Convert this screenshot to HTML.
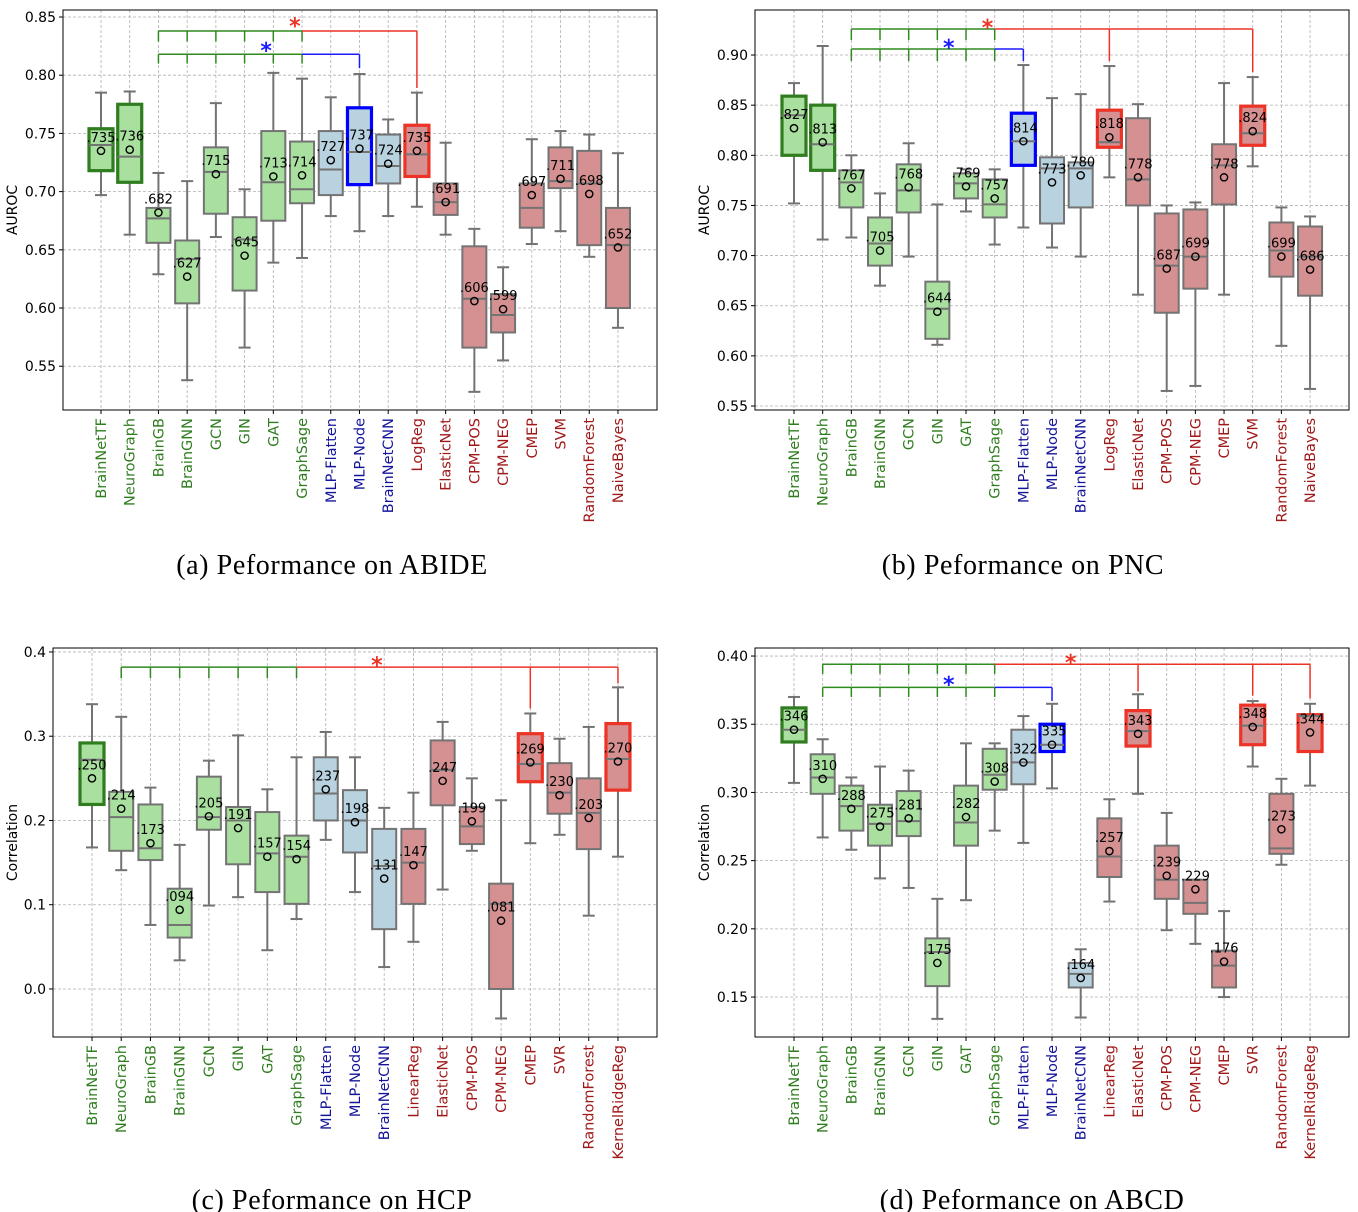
<!DOCTYPE html>
<html><head><meta charset="utf-8">
<style>
body{margin:0;background:#fff;}
svg{display:block;}
</style></head>
<body>
<svg id="fig" width="1358" height="1212" viewBox="0 0 1358 1212" xmlns="http://www.w3.org/2000/svg" font-family="DejaVu Sans, Liberation Sans, sans-serif">
<text x="332" y="574" font-family="Liberation Serif, serif" font-size="28" letter-spacing="0.6" text-anchor="middle">(a) Peformance on ABIDE</text>
<text x="1023" y="574" font-family="Liberation Serif, serif" font-size="28" letter-spacing="0.6" text-anchor="middle">(b) Peformance on PNC</text>
<text x="332" y="1209" font-family="Liberation Serif, serif" font-size="28" letter-spacing="0.6" text-anchor="middle">(c) Peformance on HCP</text>
<text x="1032" y="1209" font-family="Liberation Serif, serif" font-size="28" letter-spacing="0.6" text-anchor="middle">(d) Peformance on ABCD</text>
</svg>
<script>
// ---------- Panel A (ABIDE) ----------
const catsA = ["BrainNetTF","NeuroGraph","BrainGB","BrainGNN","GCN","GIN","GAT","GraphSage","MLP-Flatten","MLP-Node","BrainNetCNN","LogReg","ElasticNet","CPM-POS","CPM-NEG","CMEP","SVM","RandomForest","NaiveBayes"];
const wloA = [.697,.663,.629,.538,.661,.566,.639,.643,.679,.666,.679,.687,.663,.528,.555,.655,.666,.644,.583];
const q1A  = [.718,.708,.656,.604,.681,.615,.675,.690,.697,.706,.707,.713,.680,.566,.579,.669,.703,.654,.600];
const medA = [.740,.730,.677,.642,.717,.659,.708,.702,.719,.734,.722,.732,.691,.608,.594,.686,.709,.707,.654];
const q3A  = [.754,.775,.686,.658,.738,.678,.752,.743,.752,.772,.749,.757,.707,.653,.612,.707,.738,.735,.686];
const whiA = [.785,.786,.716,.709,.776,.702,.802,.797,.781,.801,.762,.785,.742,.668,.635,.745,.752,.749,.733];
const meanA= [.735,.736,.682,.627,.715,.645,.713,.714,.727,.737,.724,.735,.691,.606,.599,.697,.711,.698,.652];
const ticksA = [0.55,0.60,0.65,0.70,0.75,0.80,0.85];
const tickLabA = ["0.55","0.60","0.65","0.70","0.75","0.80","0.85"];

// ---------- Panel B (PNC) ----------
const catsB = ["BrainNetTF","NeuroGraph","BrainGB","BrainGNN","GCN","GIN","GAT","GraphSage","MLP-Flatten","MLP-Node","BrainNetCNN","LogReg","ElasticNet","CPM-POS","CPM-NEG","CMEP","SVM","RandomForest","NaiveBayes"];
const wloB = [.752,.716,.718,.670,.699,.611,.744,.711,.728,.708,.699,.778,.661,.565,.570,.661,.789,.610,.567];
const q1B  = [.800,.785,.748,.690,.743,.617,.757,.738,.790,.732,.748,.808,.750,.643,.667,.751,.810,.679,.660];
const medB = [.840,.811,.773,.712,.765,.647,.772,.751,.814,.787,.787,.813,.776,.690,.699,.790,.822,.705,.699];
const q3B  = [.859,.850,.785,.738,.791,.674,.782,.776,.842,.798,.793,.845,.837,.742,.746,.811,.849,.733,.729];
const whiB = [.872,.909,.800,.762,.812,.751,.786,.786,.890,.857,.861,.889,.851,.750,.753,.872,.878,.748,.739];
const meanB= [.827,.813,.767,.705,.768,.644,.769,.757,.814,.773,.780,.818,.778,.687,.699,.778,.824,.699,.686];
const ticksB = [0.55,0.60,0.65,0.70,0.75,0.80,0.85,0.90];
const tickLabB = ["0.55","0.60","0.65","0.70","0.75","0.80","0.85","0.90"];

// ---------- Panel C (HCP) ----------
const catsC = ["BrainNetTF","NeuroGraph","BrainGB","BrainGNN","GCN","GIN","GAT","GraphSage","MLP-Flatten","MLP-Node","BrainNetCNN","LinearReg","ElasticNet","CPM-POS","CPM-NEG","CMEP","SVR","RandomForest","KernelRidgeReg"];
const wloC = [.168,.141,.076,.034,.099,.109,.046,.083,.177,.115,.026,.056,.118,.164,-.035,.173,.183,.087,.157];
const q1C  = [.219,.164,.153,.061,.189,.148,.115,.101,.200,.162,.071,.101,.218,.172,.000,.246,.208,.166,.236];
const medC = [.272,.204,.167,.076,.204,.200,.161,.157,.232,.200,.146,.150,.260,.193,.101,.267,.233,.209,.273];
const q3C  = [.292,.234,.219,.119,.252,.216,.210,.182,.275,.236,.190,.190,.295,.216,.125,.303,.268,.250,.315];
const whiC = [.338,.323,.239,.171,.271,.301,.237,.275,.305,.275,.215,.233,.317,.250,.224,.327,.297,.311,.358];
const meanC= [.250,.214,.173,.094,.205,.191,.157,.154,.237,.198,.131,.147,.247,.199,.081,.269,.230,.203,.270];
const ticksC = [0.0,0.1,0.2,0.3,0.4];
const tickLabC = ["0.0","0.1","0.2","0.3","0.4"];

// ---------- Panel D (ABCD) ----------
const catsD = ["BrainNetTF","NeuroGraph","BrainGB","BrainGNN","GCN","GIN","GAT","GraphSage","MLP-Flatten","MLP-Node","BrainNetCNN","LinearReg","ElasticNet","CPM-POS","CPM-NEG","CMEP","SVR","RandomForest","KernelRidgeReg"];
const wloD = [.307,.267,.258,.237,.230,.134,.221,.272,.263,.303,.135,.220,.299,.199,.189,.150,.319,.247,.305];
const q1D  = [.337,.299,.272,.261,.268,.158,.261,.302,.306,.330,.157,.238,.334,.222,.211,.157,.335,.255,.330];
const medD = [.346,.311,.290,.277,.279,.183,.278,.313,.322,.335,.167,.253,.345,.236,.219,.173,.349,.259,.356];
const q3D  = [.362,.328,.305,.291,.301,.193,.305,.332,.346,.350,.175,.281,.360,.261,.236,.184,.364,.299,.357];
const whiD = [.370,.339,.311,.319,.316,.222,.336,.336,.356,.365,.185,.295,.372,.285,.236,.213,.367,.310,.365];
const meanD= [.346,.310,.288,.275,.281,.175,.282,.308,.322,.335,.164,.257,.343,.239,.229,.176,.348,.273,.344];
const ticksD = [0.15,0.20,0.25,0.30,0.35,0.40];
const tickLabD = ["0.15","0.20","0.25","0.30","0.35","0.40"];

const NS = "http://www.w3.org/2000/svg";
const svg = document.getElementById("fig");
function mk(tag, attrs, parent){
  const e = document.createElementNS(NS, tag);
  for (const k in attrs) e.setAttribute(k, attrs[k]);
  (parent||svg).appendChild(e);
  return e;
}
const FILL = {g:"#a9e09f", b:"#b8d2df", r:"#d59191"};
const LAB = {g:"#2f7d1f", b:"#14149a", r:"#a01818"};
const HL = {g:"#2f7d1f", b:"#0000ff", r:"#ec3326"};
function kindOf(name){
  if (["BrainNetTF","NeuroGraph","BrainGB","BrainGNN","GCN","GIN","GAT","GraphSage"].includes(name)) return "g";
  if (["MLP-Flatten","MLP-Node","BrainNetCNN"].includes(name)) return "b";
  return "r";
}

function panel(cfg){
  const g = mk("g", {});
  
  
  const y = v => cfg.top + (cfg.ymax - v) / (cfg.ymax - cfg.ymin) * (cfg.bottom - cfg.top);
  const x = i => cfg.x0 + i * cfg.step;
  cfg.ticks.forEach((t, i) => {
    const gl = mk("line", {x1:cfg.left, x2:cfg.right, y1:y(t), y2:y(t), stroke:"#b0b0b0", "stroke-width":0.8, "stroke-dasharray":"3,2"}, g);
    
    
    const tk = mk("line", {x1:cfg.left-4, x2:cfg.left, y1:y(t), y2:y(t), stroke:"#000", "stroke-width":1}, g);
    
    
    const tl = mk("text", {x:cfg.left-7, y:y(t)+5, "font-size":14, "text-anchor":"end", fill:"#000"}, g);
    tl.textContent = cfg.tickLab[i];
    
    
  });
  cfg.cats.forEach((c, i) => {
    const gl = mk("line", {x1:x(i), x2:x(i), y1:cfg.top, y2:cfg.bottom, stroke:"#b0b0b0", "stroke-width":0.8, "stroke-dasharray":"3,2"}, g);
    
    
    const tk = mk("line", {x1:x(i), x2:x(i), y1:cfg.bottom, y2:cfg.bottom+4, stroke:"#000", "stroke-width":1}, g);
    
    
    const tl = mk("text", {transform:`translate(${x(i)+5},${cfg.bottom+8}) rotate(-90)`, "font-size":14.5, "text-anchor":"end", fill:LAB[kindOf(c)]}, g);
    tl.textContent = c;
    
    
  });
  const bw = 24, cw = 12;
  cfg.cats.forEach((c, i) => {
    const k = kindOf(c);
    const hl = cfg.hl[i];
    const cx = x(i);
    const bg = mk("g", {}, g);
    
    
    const wc = "#737373";
    mk("line", {x1:cx, x2:cx, y1:y(cfg.whi[i]), y2:y(cfg.q3[i]), stroke:wc, "stroke-width":2}, bg);
    mk("line", {x1:cx, x2:cx, y1:y(cfg.q1[i]), y2:y(cfg.wlo[i]), stroke:wc, "stroke-width":2}, bg);
    mk("line", {x1:cx-cw/2, x2:cx+cw/2, y1:y(cfg.whi[i]), y2:y(cfg.whi[i]), stroke:wc, "stroke-width":2}, bg);
    mk("line", {x1:cx-cw/2, x2:cx+cw/2, y1:y(cfg.wlo[i]), y2:y(cfg.wlo[i]), stroke:wc, "stroke-width":2}, bg);
    mk("rect", {x:cx-bw/2, y:y(cfg.q3[i]), width:bw, height:y(cfg.q1[i])-y(cfg.q3[i]), fill:FILL[k], stroke: hl ? HL[hl] : wc, "stroke-width": hl ? 3.2 : 2}, bg);
    mk("line", {x1:cx-bw/2, x2:cx+bw/2, y1:y(cfg.med[i]), y2:y(cfg.med[i]), stroke:wc, "stroke-width":2}, bg);
    const m = mk("circle", {cx:cx, cy:y(cfg.mean[i]), r:3.6, fill:"none", stroke:"#000", "stroke-width":1.4}, g);
    
    
    const vl = mk("text", {x:cx, y:y(cfg.mean[i])-9, "font-size":13, "text-anchor":"middle", fill:"#000"}, g);
    vl.textContent = cfg.mean[i].toFixed(3).replace(/^0/, "").replace(/^-0/, "-");
    
    
  });
  cfg.brackets.forEach(br => {
    const bgp = mk("g", {}, g);
    
    
    mk("line", {x1:x(br.from), x2:x(br.to), y1:y(br.level), y2:y(br.level), stroke:"#2f8a1f", "stroke-width":1.5}, bgp);
    for (let i = br.from; i <= br.to; i++)
      mk("line", {x1:x(i), x2:x(i), y1:y(br.level), y2:y(br.tick), stroke:"#2f8a1f", "stroke-width":1.5}, bgp);
    const last = br.drops[br.drops.length-1][0];
    mk("line", {x1:x(br.to), x2:x(last), y1:y(br.level), y2:y(br.level), stroke:br.color, "stroke-width":1.5}, bgp);
    br.drops.forEach(d => mk("line", {x1:x(d[0]), x2:x(d[0]), y1:y(br.level), y2:y(d[1]), stroke:br.color, "stroke-width":1.5}, bgp));
    const st = mk("text", {x:x(br.star[0]), y:y(br.star[1])+14, "font-size":22, "font-weight":"bold", "text-anchor":"middle", fill:br.color}, bgp);
    st.textContent = "*";
    
    
  });
  const fr = mk("rect", {x:cfg.left, y:cfg.top, width:cfg.right-cfg.left, height:cfg.bottom-cfg.top, fill:"none", stroke:"#000", "stroke-width":1}, g);
  
  
  const yl = mk("text", {transform:`translate(${cfg.ylabX},${(cfg.top+cfg.bottom)/2}) rotate(-90)`, "font-size":14, "text-anchor":"middle"}, g);
  yl.textContent = cfg.ylab;
  
  
}

function hlArr(n, map){ const a = new Array(n).fill(null); for (const k in map) a[k] = map[k]; return a; }

panel({id:"panel-abide", left:63, right:657, top:10, bottom:410, ymin:0.5124, ymax:0.856, x0:101, step:28.72,
  cats:catsA, wlo:wloA, q1:q1A, med:medA, q3:q3A, whi:whiA, mean:meanA, ticks:ticksA, tickLab:tickLabA,
  hl:hlArr(19,{0:"g",1:"g",9:"b",11:"r"}), ylab:"AUROC", ylabX:17,
  brackets:[
    {from:2,to:7,level:.838,tick:.829,color:"#ec3326",drops:[[11,.789]],star:[6.75,.848]},
    {from:2,to:7,level:.818,tick:.810,color:"#1a1aff",drops:[[9,.806]],star:[5.75,.827]}
  ]});
panel({id:"panel-pnc", left:755, right:1349, top:10, bottom:410, ymin:0.546, ymax:0.9449, x0:794, step:28.67,
  cats:catsB, wlo:wloB, q1:q1B, med:medB, q3:q3B, whi:whiB, mean:meanB, ticks:ticksB, tickLab:tickLabB,
  hl:hlArr(19,{0:"g",1:"g",8:"b",11:"r",16:"r"}), ylab:"AUROC", ylabX:709,
  brackets:[
    {from:2,to:7,level:.926,tick:.915,color:"#ec3326",drops:[[11,.894],[16,.883]],star:[6.75,.934]},
    {from:2,to:7,level:.906,tick:.894,color:"#1a1aff",drops:[[8,.894]],star:[5.4,.914]}
  ]});
panel({id:"panel-hcp", left:53, right:657, top:648, bottom:1037, ymin:-0.057, ymax:0.4047, x0:92, step:29.22,
  cats:catsC, wlo:wloC, q1:q1C, med:medC, q3:q3C, whi:whiC, mean:meanC, ticks:ticksC, tickLab:tickLabC,
  hl:hlArr(19,{0:"g",15:"r",18:"r"}), ylab:"Correlation", ylabX:17,
  brackets:[
    {from:1,to:7,level:.382,tick:.369,color:"#ec3326",drops:[[15,.333],[18,.363]],star:[9.75,.392]}
  ]});
panel({id:"panel-abcd", left:755, right:1349, top:648, bottom:1037, ymin:0.1207, ymax:0.4059, x0:794, step:28.67,
  cats:catsD, wlo:wloD, q1:q1D, med:medD, q3:q3D, whi:whiD, mean:meanD, ticks:ticksD, tickLab:tickLabD,
  hl:hlArr(19,{0:"g",9:"b",12:"r",16:"r",18:"r"}), ylab:"Correlation", ylabX:709,
  brackets:[
    {from:1,to:7,level:.394,tick:.387,color:"#ec3326",drops:[[12,.374],[16,.371],[18,.369]],star:[9.65,.400]},
    {from:1,to:7,level:.377,tick:.370,color:"#1a1aff",drops:[[9,.367]],star:[5.4,.384]}
  ]});
</script>
</body></html>
